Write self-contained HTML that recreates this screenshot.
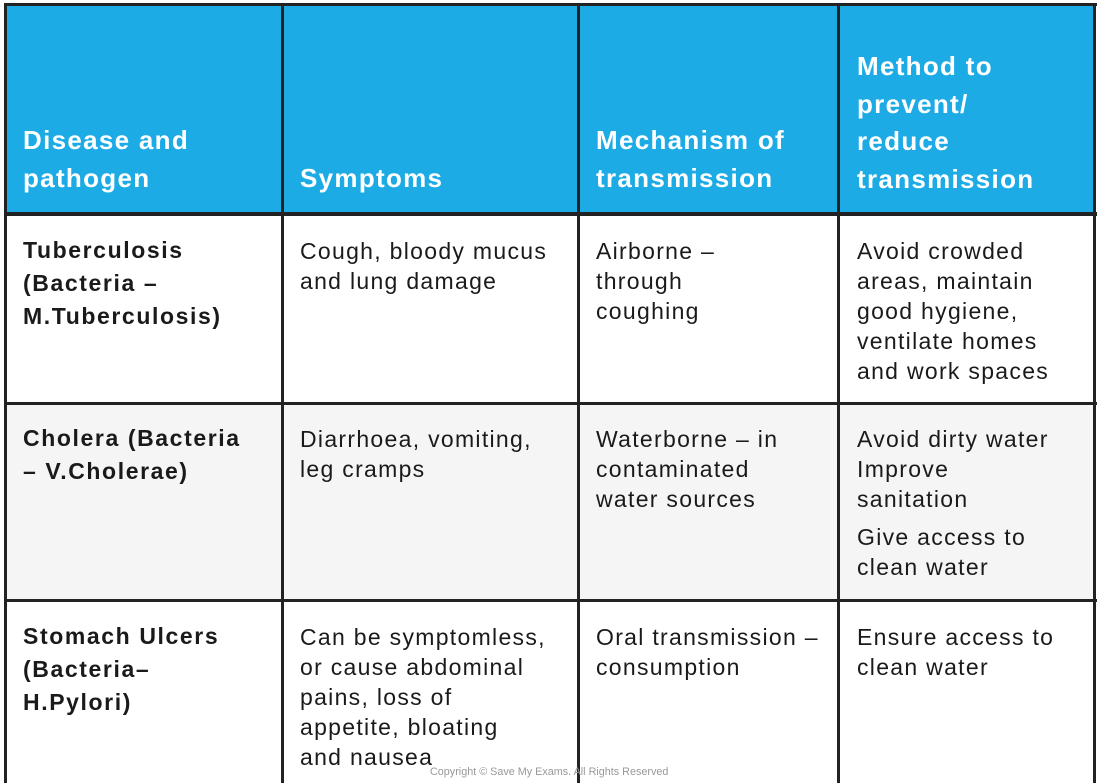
<!DOCTYPE html>
<html><head><meta charset="utf-8"><style>
html,body{margin:0;padding:0;}
body{width:1100px;height:783px;position:relative;overflow:hidden;background:#fff;font-family:"Liberation Sans",sans-serif;}
.bg{position:absolute;}
.l{position:absolute;background:#222;}
.t{position:absolute;font-size:23px;line-height:30px;color:#1a1a1a;letter-spacing:1.3px;white-space:nowrap;}
.b{font-weight:bold;line-height:33px;letter-spacing:1.6px;}
.h{position:absolute;font-size:26px;line-height:37.5px;color:#fff;font-weight:bold;letter-spacing:1.3px;white-space:nowrap;}
</style></head><body>
<div class="bg" style="left:5px;top:5px;width:1090px;height:209px;background:#1dabe6"></div>
<div class="bg" style="left:5px;top:404px;width:1090px;height:197px;background:#f5f5f5"></div>
<div class="l" style="left:4px;top:3px;width:1093px;height:3px"></div>
<div class="l" style="left:4px;top:212px;width:1093px;height:4px"></div>
<div class="l" style="left:4px;top:402px;width:1093px;height:3px"></div>
<div class="l" style="left:4px;top:599px;width:1093px;height:3px"></div>
<div class="l" style="left:4px;top:3px;width:3px;height:780px"></div>
<div class="l" style="left:281px;top:3px;width:3px;height:780px"></div>
<div class="l" style="left:577px;top:3px;width:3px;height:780px"></div>
<div class="l" style="left:837px;top:3px;width:3px;height:780px"></div>
<div class="l" style="left:1093px;top:3px;width:3px;height:780px"></div>

<div class="h" style="left:23px;top:122px">Disease and<br>pathogen</div>
<div class="h" style="left:300px;top:160px">Symptoms</div>
<div class="h" style="left:596px;top:122px">Mechanism of<br>transmission</div>
<div class="h" style="left:857px;top:48px">Method to<br>prevent/<br>reduce<br>transmission</div>

<div class="t b" style="left:23px;top:234px">Tuberculosis<br>(Bacteria –<br>M.Tuberculosis)</div>
<div class="t" style="left:300px;top:236px">Cough, bloody mucus<br>and lung damage</div>
<div class="t" style="left:596px;top:236px">Airborne –<br>through<br>coughing</div>
<div class="t" style="left:857px;top:236px">Avoid crowded<br>areas, maintain<br>good hygiene,<br>ventilate homes<br>and work spaces</div>

<div class="t b" style="left:23px;top:422px">Cholera (Bacteria<br>– V.Cholerae)</div>
<div class="t" style="left:300px;top:424px">Diarrhoea, vomiting,<br>leg cramps</div>
<div class="t" style="left:596px;top:424px">Waterborne – in<br>contaminated<br>water sources</div>
<div class="t" style="left:857px;top:424px">Avoid dirty water<br>Improve<br>sanitation</div>
<div class="t" style="left:857px;top:522px">Give access to<br>clean water</div>

<div class="t b" style="left:23px;top:620px">Stomach Ulcers<br>(Bacteria–<br>H.Pylori)</div>
<div class="t" style="left:300px;top:622px">Can be symptomless,<br>or cause abdominal<br>pains, loss of<br>appetite, bloating<br>and nausea</div>
<div class="t" style="left:596px;top:622px">Oral transmission –<br>consumption</div>
<div class="t" style="left:857px;top:622px">Ensure access to<br>clean water</div>

<div style="position:absolute;left:430px;top:766px;font-size:10.8px;color:#999;white-space:nowrap">Copyright © Save My Exams. All Rights Reserved</div>
</body></html>
